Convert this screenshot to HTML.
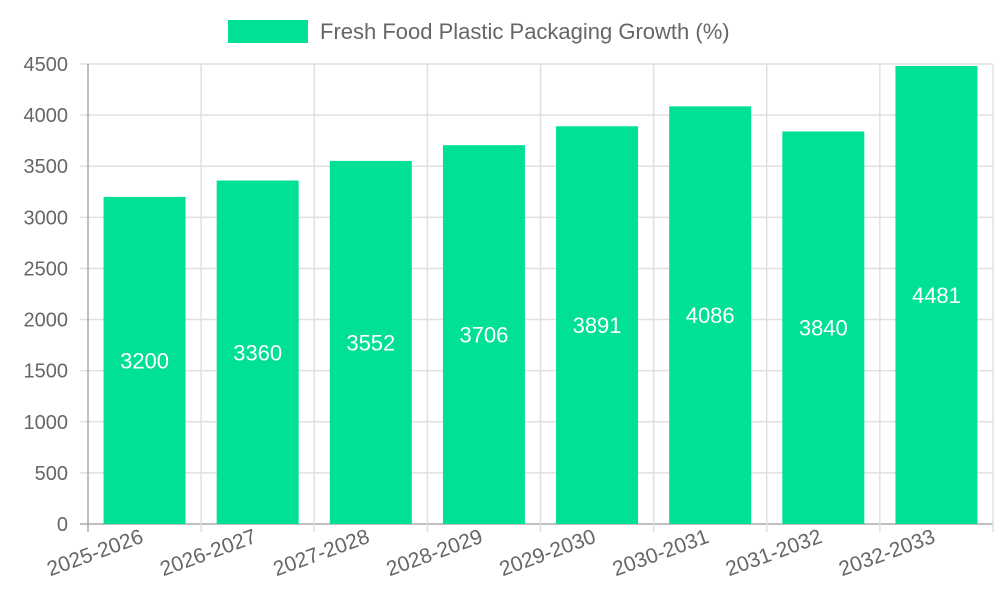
<!DOCTYPE html>
<html><head><meta charset="utf-8"><style>
body{margin:0;background:#fff;}
svg text{font-family:"Liberation Sans",sans-serif;}
</style></head><body>
<svg id="chart" width="1000" height="600">
<rect x="228" y="20" width="80" height="23" fill="#00e096"></rect>
<text x="320" y="39" font-size="22" fill="#666">Fresh Food Plastic Packaging Growth (%)</text>
<g id="grid"></g><g id="bars"></g><g id="labels"></g>
</svg>
<script>
const categories=["2025-2026","2026-2027","2027-2028","2028-2029","2029-2030","2030-2031","2031-2032","2032-2033"];
const values=[3200,3360,3552,3706,3891,4086,3840,4481];
const yTicks=[0,500,1000,1500,2000,2500,3000,3500,4000,4500];
const X0=88,X1=993,Y0=524,Y1=64,YMAX=4500;
const ns="http://www.w3.org/2000/svg";
const bw=(X1-X0)/categories.length;
function y(v){return Y0-(v/YMAX)*(Y0-Y1);}
function xc(i){return X0+bw*(i+0.5);}
function mk(tag,attrs,parent){const e=document.createElementNS(ns,tag);for(const k in attrs)e.setAttribute(k,attrs[k]);parent.appendChild(e);return e;}
const grid=document.getElementById('grid'),bars=document.getElementById('bars'),labels=document.getElementById('labels');
yTicks.forEach(t=>{
  const l=mk('line',{x1:X0-8,x2:X1,y1:y(t),y2:y(t),stroke:t===0?'#aaa':'#e0e0e0','stroke-width':1.5},grid);
  
  
  const tx=mk('text',{x:X0-20,y:y(t)+7,'text-anchor':'end','font-size':20,fill:'#666'},labels);
  tx.textContent=t;
  
  
});
for(let i=0;i<=categories.length;i++){
  const x=X0+bw*i;
  const l=mk('line',{x1:x,x2:x,y1:Y1,y2:Y0+8,stroke:i===0?'#aaa':'#e0e0e0','stroke-width':1.5},grid);
  
  
}
values.forEach((v,i)=>{
  const w=82;
  const r=mk('rect',{x:xc(i)-w/2,y:y(v),width:w,height:Y0-y(v),fill:'#00e096'},bars);
  
  
  const t=mk('text',{x:xc(i),y:(y(v)+Y0)/2+8,'text-anchor':'middle','font-size':22,fill:'#fff'},labels);
  t.textContent=v;
  
  
  const c=mk('text',{x:xc(i),y:542,'text-anchor':'end','font-size':21,fill:'#666',transform:'rotate(-20 '+xc(i)+' 542)'},labels);
  c.textContent=categories[i];
  
  
});
</script>
</body></html>
